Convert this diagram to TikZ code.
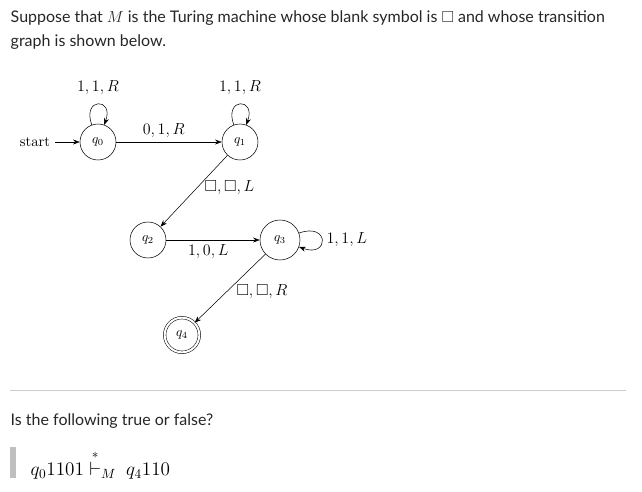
\documentclass[tikz,border=0pt]{standalone}
\usepackage{amssymb}
\usepackage{fontspec}
\setmainfont{Lato}
\newfontfamily\lmr{Latin Modern Roman}
\usetikzlibrary{arrows.meta}
\begin{document}
\begin{tikzpicture}[x=0.75pt,y=-0.75pt,
  st/.style={circle,draw,thin,minimum size=27pt,inner sep=0pt,font=\normalsize},
  edge/.style={draw,thin,-{Stealth[length=5pt]}},
  lab/.style={font=\fontsize{12}{14}\selectfont},
  txt/.style={anchor=west,font=\fontsize{12}{14}\selectfont,text=black!85}]
\useasboundingbox (0,0) rectangle (642,492);
\node[txt] (t1) at (6,18) {Suppose that $M$ is the Turing machine whose blank symbol is $\square$ and whose transition};
\node[txt] (t2) at (6,42) {graph is shown below.};
\node[st] (q0) at (98,142) {$q_0$};
\node[st] (q1) at (240,142) {$q_1$};
\node[st] (q2) at (148,240) {$q_2$};
\node[st,minimum size=30pt] (q3) at (280,240) {$q_3$};
\node[st,double,double distance=1.5pt,minimum size=26pt] (q4) at (182,335) {$q_4$};
\node[font=\lmr\fontsize{11}{13}\selectfont] (start) at (35,142) {start};
\draw[edge] (start) -- (q0);
\draw[edge] (q0) to[out=110,in=70,looseness=6] node[above,lab,yshift=4pt]{$1,1,R$} (q0);
\draw[edge] (q1) to[out=110,in=70,looseness=6] node[above,lab,yshift=4pt]{$1,1,R$} (q1);
\draw[edge] (q0) -- node[above,lab,pos=0.45]{$0,1,R$} (q1);
\draw[edge] (q1) -- node[right,lab,pos=0.45,xshift=2pt]{$\square,\square,L$} (q2);
\draw[edge] (q2) -- node[below,lab,pos=0.45]{$1,0,L$} (q3);
\draw[edge] (q3) to[out=20,in=-20,looseness=6] node[right,lab]{$1,1,L$} (q3);
\draw[edge] (q3) -- node[right,lab,pos=0.55,xshift=4pt]{$\square,\square,R$} (q4);
\draw[black!20] (10,390) -- (626,390);
\node[txt] (t3) at (6,421) {Is the following true or false?};
\fill[black!25] (10,447) rectangle (16,478);
\node[anchor=west,font=\fontsize{14}{16}\selectfont] (f) at (26,465) {$q_0 1101 \stackrel{*}{\vdash}_{M}\ q_4 110$};
\end{tikzpicture}
\end{document}
